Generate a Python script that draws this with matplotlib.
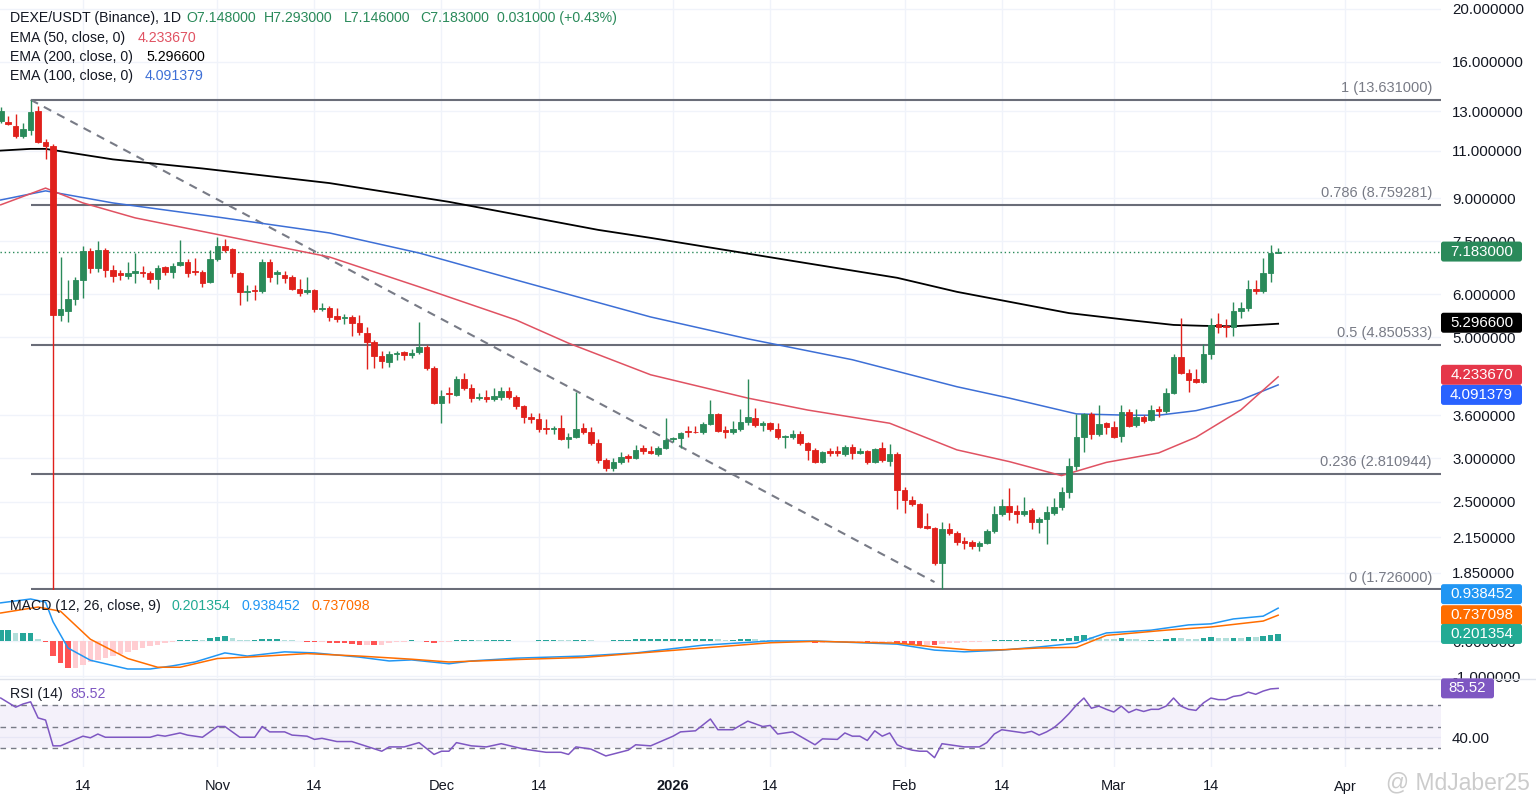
import numpy as np
import pandas as pd
import matplotlib
matplotlib.use("Agg")
import matplotlib.pyplot as plt
import matplotlib.dates as mdates
import matplotlib.ticker as mticker
from matplotlib.patches import FancyBboxPatch
from matplotlib.lines import Line2D
from matplotlib.transforms import IdentityTransform

plt.rcParams['font.family'] = ['Liberation Sans', 'DejaVu Sans']

# ---- data, day offsets are relative to 2025-10-10 ----
crash = pd.Timestamp("2025-10-10")
first_offset = -7

opens = [12.45, 12.42, 12.2, 11.68, 12.0, 13.0, 11.4, 11.22, 5.5, 5.6,
         5.87, 6.37, 7.21, 6.69, 7.23, 6.65, 6.55, 6.48, 6.57, 6.6,
         6.55, 6.4, 6.72, 6.58, 6.78, 6.88, 6.62, 6.6, 6.31, 6.97,
         7.36, 7.25, 6.57, 6.05, 6.1, 6.08, 6.88, 6.54, 6.5, 6.45,
         6.14, 6.06, 6.1, 5.64, 5.66, 5.47, 5.42, 5.45, 5.32, 5.1,
         4.9, 4.63, 4.51, 4.67, 4.7, 4.64, 4.7, 4.8, 4.4, 3.79,
         3.95, 3.92, 4.2, 4.03, 3.87, 3.89, 3.85, 3.89, 3.98, 3.89,
         3.74, 3.57, 3.55, 3.41, 3.39, 3.41, 3.26, 3.29, 3.41, 3.36,
         3.2, 2.98, 2.88, 2.95, 3.03, 3.01, 3.13, 3.09, 3.06, 3.14,
         3.25, 3.27, 3.37, 3.36, 3.36, 3.47, 3.62, 3.38, 3.35, 3.39,
         3.5, 3.56, 3.46, 3.48, 3.39, 3.28, 3.28, 3.32, 3.2, 3.11,
         2.96, 3.09, 3.09, 3.05, 3.15, 3.07, 3.09, 2.96, 3.13, 2.97,
         3.06, 2.63, 2.52, 2.47, 2.26, 2.24, 1.93, 2.23, 2.19, 2.12,
         2.11, 2.07, 2.1, 2.21, 2.37, 2.45, 2.4, 2.37, 2.41, 2.29,
         2.32, 2.38, 2.44, 2.6, 2.9, 3.28, 3.62, 3.32, 3.48, 3.43,
         3.3, 3.65, 3.45, 3.58, 3.53, 3.69, 3.67, 3.96, 4.6, 4.3,
         4.19, 4.15, 4.66, 5.29, 5.24, 5.23, 5.6, 5.66, 6.14, 6.07,
         6.56, 7.148]
highs = [13.2, 12.75, 12.85, 12.37, 13.631, 13.25, 11.55, 11.3, 7.02, 6.37,
         6.46, 7.34, 7.28, 7.5, 7.3, 6.79, 6.65, 6.88, 7.15, 6.76,
         6.62, 6.8, 6.77, 6.84, 7.54, 6.95, 7.0, 6.65, 7.23, 7.64,
         7.58, 7.3, 6.6, 6.25, 6.24, 6.97, 6.97, 6.65, 6.62, 6.5,
         6.41, 6.46, 6.14, 5.78, 5.7, 5.65, 5.52, 5.5, 5.5, 5.23,
         4.95, 4.72, 4.72, 4.72, 4.73, 4.77, 5.33, 4.84, 4.43, 4.0,
         4.05, 4.24, 4.31, 4.1, 3.95, 4.01, 4.03, 4.06, 4.06, 3.92,
         3.76, 3.64, 3.64, 3.54, 3.44, 3.6, 3.34, 3.97, 3.48, 3.42,
         3.25, 3.0, 3.0, 3.08, 3.06, 3.17, 3.17, 3.16, 3.16, 3.56,
         3.29, 3.36, 3.44, 3.44, 3.5, 3.84, 3.64, 3.44, 3.51, 3.69,
         4.2, 3.71, 3.52, 3.5, 3.49, 3.31, 3.38, 3.37, 3.22, 3.13,
         3.1, 3.13, 3.16, 3.18, 3.19, 3.13, 3.11, 3.14, 3.21, 3.19,
         3.08, 2.66, 2.56, 2.49, 2.38, 2.25, 2.29, 2.28, 2.21, 2.15,
         2.13, 2.12, 2.23, 2.45, 2.53, 2.65, 2.46, 2.55, 2.43, 2.34,
         2.45, 2.54, 2.66, 3.0, 3.62, 3.64, 3.65, 3.76, 3.5, 3.52,
         3.76, 3.69, 3.69, 3.6, 3.76, 3.75, 4.03, 4.66, 5.43, 4.38,
         4.37, 4.87, 5.43, 5.55, 5.4, 5.8, 5.8, 6.37, 6.37, 7.0,
         7.4, 7.293]
lows = [12.35, 12.25, 11.6, 11.62, 11.75, 11.35, 10.6, 1.70, 5.36, 5.33,
        5.74, 5.9, 6.55, 6.6, 6.46, 6.33, 6.38, 6.41, 6.29, 6.46,
        6.3, 6.13, 6.5, 6.42, 6.75, 6.46, 6.5, 6.18, 6.28, 6.9,
        7.18, 6.46, 5.74, 5.83, 5.85, 6.03, 6.33, 6.27, 6.3, 6.1,
        5.96, 6.01, 5.57, 5.6, 5.36, 5.34, 5.3, 5.03, 5.05, 4.37,
        4.39, 4.39, 4.42, 4.55, 4.55, 4.58, 4.66, 4.36, 3.78, 3.48,
        3.79, 3.9, 4.0, 3.81, 3.84, 3.81, 3.83, 3.84, 3.86, 3.69,
        3.48, 3.48, 3.36, 3.32, 3.33, 3.24, 3.14, 3.27, 3.33, 3.18,
        2.94, 2.84, 2.84, 2.93, 2.96, 2.99, 3.06, 3.05, 3.03, 3.12,
        3.22, 3.14, 3.28, 3.34, 3.33, 3.45, 3.35, 3.27, 3.33, 3.37,
        3.45, 3.43, 3.37, 3.37, 3.26, 3.14, 3.26, 3.18, 2.98, 2.94,
        2.94, 3.03, 3.03, 3.03, 2.99, 3.05, 2.93, 2.94, 2.96, 2.9,
        2.42, 2.38, 2.45, 2.24, 2.23, 1.91, 1.726, 2.17, 2.08, 2.05,
        2.05, 2.03, 2.09, 2.19, 2.35, 2.31, 2.28, 2.35, 2.23, 2.19,
        2.09, 2.36, 2.41, 2.54, 2.86, 3.08, 3.25, 3.3, 3.33, 3.27,
        3.22, 3.42, 3.43, 3.49, 3.51, 3.58, 3.64, 3.93, 4.28, 3.97,
        4.12, 4.12, 4.57, 5.1, 5.0, 5.02, 5.43, 5.6, 6.0, 6.03,
        6.33, 7.146]
closes = [13.0, 12.32, 11.68, 12.03, 12.95, 11.4, 11.22, 5.5, 5.63, 5.87,
          6.37, 7.21, 6.69, 7.23, 6.65, 6.48, 6.51, 6.56, 6.61, 6.56,
          6.4, 6.7, 6.58, 6.76, 6.88, 6.56, 6.58, 6.3, 6.97, 7.36,
          7.24, 6.57, 6.06, 6.09, 6.07, 6.88, 6.46, 6.58, 6.42, 6.14,
          6.04, 6.1, 5.63, 5.67, 5.46, 5.4, 5.45, 5.32, 5.12, 4.9,
          4.63, 4.52, 4.67, 4.69, 4.65, 4.69, 4.8, 4.4, 3.79, 3.91,
          3.93, 4.2, 4.03, 3.87, 3.89, 3.85, 3.9, 3.98, 3.89, 3.74,
          3.57, 3.54, 3.39, 3.39, 3.41, 3.26, 3.29, 3.4, 3.36, 3.2,
          2.98, 2.88, 2.95, 3.02, 3.01, 3.11, 3.09, 3.07, 3.14, 3.24,
          3.27, 3.34, 3.35, 3.35, 3.47, 3.62, 3.37, 3.36, 3.39, 3.5,
          3.57, 3.45, 3.48, 3.39, 3.28, 3.3, 3.32, 3.2, 3.11, 2.96,
          3.08, 3.07, 3.07, 3.15, 3.07, 3.09, 2.96, 3.12, 2.98, 3.06,
          2.63, 2.52, 2.47, 2.25, 2.24, 1.93, 2.23, 2.19, 2.11, 2.1,
          2.07, 2.1, 2.21, 2.37, 2.45, 2.39, 2.37, 2.4, 2.29, 2.32,
          2.39, 2.44, 2.6, 2.91, 3.28, 3.62, 3.32, 3.47, 3.43, 3.29,
          3.65, 3.44, 3.58, 3.52, 3.68, 3.67, 3.96, 4.6, 4.3, 4.17,
          4.15, 4.66, 5.27, 5.22, 5.22, 5.6, 5.66, 6.13, 6.07, 6.56,
          7.148, 7.183]

macd_hist = [0.30, 0.30, 0.22, 0.22, 0.24, 0.07, -0.02, -0.42, -0.62, -0.76,
             -0.76, -0.68, -0.6, -0.54, -0.48, -0.42, -0.36, -0.3, -0.25, -0.2,
             -0.15, -0.1, -0.06, -0.02, 0.02, 0.03, 0.04, 0.03, 0.08, 0.12,
             0.13, 0.08, 0.04, 0.02, 0.02, 0.05, 0.05, 0.05, 0.03, 0.02,
             0.01, -0.02, -0.04, -0.04, -0.05, -0.06, -0.07, -0.09, -0.1, -0.1,
             -0.11, -0.1, -0.06, -0.04, -0.02, 0.02, 0.01, -0.03, -0.05, -0.04,
             -0.02, 0.02, 0.03, 0.03, 0.02, 0.02, 0.02, 0.03, 0.03, 0.01,
             0.01, 0.01, 0.02, 0.03, 0.04, 0.03, 0.02, 0.04, 0.04, 0.02,
             0.01, 0.01, 0.03, 0.04, 0.04, 0.05, 0.05, 0.05, 0.05, 0.06,
             0.06, 0.06, 0.06, 0.06, 0.06, 0.07, 0.05, 0.04, 0.04, 0.05,
             0.07, 0.05, 0.04, 0.03, 0.02, 0.01, 0.01, -0.02, -0.04, -0.06,
             -0.05, -0.04, -0.03, -0.02, -0.02, -0.02, -0.03, -0.02, -0.02, -0.02,
             -0.06, -0.08, -0.09, -0.1, -0.1, -0.11, -0.08, -0.06, -0.05, -0.04,
             -0.03, -0.02, -0.01, 0.02, 0.03, 0.03, 0.03, 0.03, 0.03, 0.03,
             0.04, 0.05, 0.06, 0.1, 0.14, 0.16, 0.12, 0.1, 0.07, 0.05,
             0.08, 0.06, 0.05, 0.04, 0.04, 0.03, 0.05, 0.09, 0.08, 0.06,
             0.05, 0.08, 0.12, 0.1, 0.08, 0.1, 0.09, 0.12, 0.11, 0.15,
             0.18, 0.201354]

ema50_pts = [(-7, 8.75), (-1, 9.39), (4, 8.82), (11, 8.28), (21, 7.77), (27, 7.48),
             (37, 7.02), (49, 6.19), (62, 5.38), (69, 4.88), (80, 4.27), (93, 3.87),
             (101, 3.68), (112, 3.48), (121, 3.11), (128, 2.96), (135, 2.79),
             (141, 2.95), (148, 3.07), (153, 3.28), (159, 3.68), (164, 4.23367)]
ema100_pts = [(-7, 8.93), (-1, 9.28), (8, 8.82), (22, 8.31), (37, 7.77), (49, 7.14),
              (62, 6.37), (80, 5.45), (93, 4.97), (107, 4.55), (121, 4.06), (128, 3.87),
              (137, 3.62), (144, 3.6), (148, 3.6), (153, 3.67), (159, 3.84), (164, 4.091379)]
ema200_pts = [(-7, 11.0), (-3, 11.08), (-1, 11.08), (8, 10.6), (20, 10.2), (37, 9.59),
              (53, 8.86), (73, 7.87), (80, 7.61), (100, 6.87), (113, 6.43), (121, 6.06),
              (136, 5.54), (144, 5.38), (150, 5.27), (154, 5.25), (158, 5.24), (164, 5.2966)]

macd_pts = [(-7, 1.09), (-3, 1.2), (-1, 1.11), (0, 0.55), (2, -0.2), (5, -0.55), (10, -0.8),
            (13, -0.8), (16, -0.71), (19, -0.6), (23, -0.34), (26, -0.43), (31, -0.31),
            (35, -0.34), (41, -0.46), (45, -0.57), (48, -0.54), (53, -0.65), (56, -0.57),
            (62, -0.49), (71, -0.43), (78, -0.34), (87, -0.12), (96, 0.0), (102, 0.0),
            (113, -0.09), (118, -0.26), (122, -0.31), (127, -0.26), (132, -0.17),
            (137, -0.06), (141, 0.23), (147, 0.31), (149, 0.37), (152, 0.46), (155, 0.49),
            (158, 0.63), (162, 0.71), (164, 0.938452)]
signal_pts = [(-7, 0.8), (-2, 0.97), (1, 0.85), (5, 0.05), (10, -0.5), (14, -0.75),
              (17, -0.75), (22, -0.5), (26, -0.46), (34, -0.36), (41, -0.43), (48, -0.52),
              (53, -0.6), (62, -0.53), (71, -0.47), (87, -0.2), (96, -0.05), (102, -0.01),
              (113, -0.06), (118, -0.17), (123, -0.26), (127, -0.25), (132, -0.2),
              (137, -0.18), (141, 0.16), (149, 0.31), (155, 0.4), (162, 0.57), (164, 0.737098)]

rsi_pts = [(-7, 76.5), (-5, 68), (-4, 71), (-3, 73), (-2, 58), (-1, 56), (0, 32), (1, 32),
           (4, 41), (5, 39.5), (6, 43), (7, 40), (13, 40), (14, 42), (15, 41), (17, 44),
           (18, 42), (20, 40), (22, 50), (23, 50), (25, 40), (27, 40), (28, 50), (29, 45),
           (31, 45), (32, 42), (34, 41), (35, 38), (36, 39), (38, 36), (40, 36), (44, 27),
           (45, 31), (47, 31), (49, 35), (51, 24), (52, 27), (53, 27), (54, 35), (56, 32),
           (58, 31), (60, 34), (63, 29), (66, 26), (68, 26), (69, 24), (70, 31), (72, 29),
           (74, 22.6), (77, 28), (78, 33), (80, 32), (83, 41), (84, 45), (86, 46), (88, 57),
           (89, 47), (91, 47), (93, 55), (95, 50), (96, 51), (97, 43), (99, 45), (100, 41),
           (102, 33), (103, 38.5), (105, 38), (106, 44), (107, 41), (108, 41), (109, 37),
           (110, 46), (111, 41), (112, 44), (113, 33), (114, 30), (115, 28), (116, 27),
           (117, 27), (118, 21), (119, 34), (121, 32), (122, 31), (124, 31), (125, 35),
           (126, 43), (127, 47), (129, 45), (130, 44), (131, 45.5), (132, 42), (133, 45),
           (134, 49), (135, 55), (136, 62), (137, 70), (138, 76.5), (139, 67), (140, 69),
           (141, 66), (142, 63.5), (143, 69), (144, 63), (145, 66), (146, 64), (147, 66),
           (148, 66), (149, 69), (150, 76.5), (151, 69), (152, 66), (153, 65), (154, 72),
           (155, 76.5), (156, 75), (157, 75), (158, 78), (159, 79), (160, 82), (161, 80),
           (162, 83), (163, 85), (164, 85.52)]

fib_levels = [13.631, 8.759281, 4.850533, 2.810944, 1.726]
fib_labels = ["1 (13.631000)", "0.786 (8.759281)", "0.5 (4.850533)",
              "0.236 (2.810944)", "0 (1.726000)"]
fib_start = -3
trend_pts = [(-3, 13.631), (118, 1.78)]

price_ticks = [20, 16, 13, 11, 9, 7.5, 6, 5, 3.6, 3, 2.5, 2.15, 1.85]
x_tick_dates = ["2025-10-14", "2025-11-01", "2025-11-14", "2025-12-01", "2025-12-14",
                "2026-01-01", "2026-01-14", "2026-02-01", "2026-02-14", "2026-03-01",
                "2026-03-14", "2026-04-01"]
x_tick_labels = ["14", "Nov", "14", "Dec", "14", "2026", "14", "Feb", "14", "Mar", "14", "Apr"]

last_close = 7.183
ema50_last, ema100_last, ema200_last = 4.233670, 4.091379, 5.296600
macd_last, signal_last, hist_last = 0.938452, 0.737098, 0.201354
rsi_last = 85.52

# ---- styling ----
GREEN = '#2a8a5a'
RED = '#e0201b'
TXT = '#131722'
GRAY = '#787b86'
GRID = '#f0f3fa'
C50, C100, C200 = '#e05262', '#3d6fd6', '#000000'
CMACD, CSIG, CHIST = '#2196f3', '#ff6d00', '#22ab94'
CRSI = '#7e57c2'

W, H = 1536, 799
fig = plt.figure(figsize=(W / 100, H / 100), dpi=100)
fig.patch.set_facecolor('white')


def rect(top, bottom):
    return [0, (H - bottom) / H, 1441 / W, (bottom - top) / H]


ax = fig.add_axes(rect(0, 590))
axm = fig.add_axes(rect(590, 678), sharex=ax)
axr = fig.add_axes(rect(680, 767), sharex=ax)


def day(k):
    return mdates.date2num(crash + pd.Timedelta(days=k))


def pts_xy(pts):
    ks, vs = zip(*pts)
    return [day(k) for k in ks], list(vs)


dates = pd.date_range(crash + pd.Timedelta(days=first_offset), periods=len(opens), freq="D")
xs = mdates.date2num(dates)
o, h, l, c = map(np.array, (opens, highs, lows, closes))
col = np.where(c >= o, GREEN, RED)

for a in (ax, axm, axr):
    for s in a.spines.values():
        s.set_visible(False)
    a.set_facecolor('white')
    a.grid(True, color=GRID, lw=1, zorder=0)
    a.set_axisbelow(True)

# ---- main price pane ----
ax.set_yscale('log')
ax.set_ylim(1.7215, 20.77)
ax.set_xlim(day(-7.1), day(185.8))

ax.hlines(fib_levels, day(fib_start), day(185.8), colors='#6a6d78', lw=1.5, zorder=1.5)
for lev, lab in zip(fib_levels, fib_labels):
    ax.annotate(lab, xy=(1, lev), xycoords=('axes fraction', 'data'), xytext=(-6.5, 3.5),
                textcoords='offset points', ha='right', va='bottom', color=GRAY, fontsize=10.5)

tx, tv = pts_xy(trend_pts)
ax.plot(tx, tv, color=GRAY, lw=1.5, dashes=(4, 3.2), zorder=2)
ax.axhline(last_close, color=GREEN, lw=1, ls=(0, (1, 2)), zorder=1.6)

for pts, cc, lw in ((ema200_pts, C200, 1.3), (ema100_pts, C100, 1.1), (ema50_pts, C50, 1.1)):
    ex, ev = pts_xy(pts)
    ax.plot(ex, ev, color=cc, lw=lw, zorder=2.5)

ax.vlines(xs, l, h, colors=col, lw=1.0, zorder=3)
ax.bar(xs, np.abs(c - o), bottom=np.minimum(o, c), width=0.74, color=col,
       edgecolor=col, linewidth=0.6, zorder=4)

ax.yaxis.tick_right()
ax.set_yticks(price_ticks)
ax.yaxis.set_minor_locator(mticker.NullLocator())
ax.yaxis.set_major_formatter(mticker.FuncFormatter(lambda v, p: f"{v:.6f}"))

# ---- MACD pane ----
hist = np.array(macd_hist)
prev = np.r_[hist[0], hist[:-1]]
hcol = np.where(hist >= 0, np.where(hist >= prev, '#26a69a', '#b2dfdb'),
                np.where(hist < prev, '#ff5252', '#ffcdd2'))
axm.bar(xs, hist, width=0.74, color=hcol, zorder=2)
mx, mv = pts_xy(macd_pts)
sx, sv = pts_xy(signal_pts)
axm.plot(mx, mv, color=CMACD, lw=1.1, zorder=3)
axm.plot(sx, sv, color=CSIG, lw=1.1, zorder=3)
axm.set_ylim(-1.057, 1.457)
axm.yaxis.tick_right()
axm.set_yticks([0, -1])
axm.yaxis.set_major_formatter(mticker.FuncFormatter(lambda v, p: f"{v:.6f}"))

# ---- RSI pane ----
axr.axhspan(30, 70, color=CRSI, alpha=0.08, lw=0, zorder=1)
for lev in (70, 50, 30):
    axr.axhline(lev, color=GRAY, lw=1, dashes=(4, 3.5), zorder=2)
rx, rv = pts_xy(rsi_pts)
axr.plot(rx, rv, color=CRSI, lw=1.1, zorder=3)
axr.set_ylim(12.3, 93.3)
axr.yaxis.tick_right()
axr.set_yticks([40])
axr.yaxis.set_major_formatter(mticker.FuncFormatter(lambda v, p: f"{v:.2f}"))

for a in (ax, axm, axr):
    a.tick_params(axis='y', length=0, pad=8, labelsize=10.8, labelcolor=TXT)
    a.tick_params(axis='x', length=0)

tick_x = [mdates.date2num(pd.Timestamp(d)) for d in x_tick_dates]
axr.set_xticks(tick_x)
axr.set_xticklabels(x_tick_labels)
axr.tick_params(axis='x', pad=9, labelsize=10.5, labelcolor=TXT)
for t in axr.get_xticklabels():
    if t.get_text() == "2026":
        t.set_fontweight('bold')
ax.tick_params(axis='x', labelbottom=False)
axm.tick_params(axis='x', labelbottom=False)

# ---- overlays in pixel coordinates ----
ident = IdentityTransform()


def ptext(x, y, s, color=TXT, size=10.2, **kw):
    fig.text(x, H - y, s, color=color, fontsize=size, va='center', ha='left',
             transform=ident, **kw)


def value_box(axis, value, text, color, shift=0, width=81):
    yp = axis.transData.transform((0, value))[1] - shift
    fig.add_artist(FancyBboxPatch((1441, yp - 10), width, 20,
                                  boxstyle='round,pad=0,rounding_size=2.5',
                                  transform=ident, fc=color, ec='none', zorder=5))
    fig.text(1441 + width / 2, yp, text, color='white', fontsize=10.8, ha='center',
             va='center', transform=ident, zorder=6)


value_box(ax, last_close, f"{last_close:.6f}", GREEN)
value_box(ax, ema200_last, f"{ema200_last:.6f}", '#000000', shift=-1)
value_box(ax, ema50_last, f"{ema50_last:.6f}", '#e5374a', shift=-2)
value_box(ax, ema100_last, f"{ema100_last:.6f}", '#2962ff', shift=10)
value_box(axm, macd_last, f"{macd_last:.6f}", CMACD, shift=-14)
value_box(axm, signal_last, f"{signal_last:.6f}", CSIG)
value_box(axm, hist_last, f"{hist_last:.6f}", CHIST)
value_box(axr, rsi_last, f"{rsi_last:.2f}", CRSI, width=53)

# legends
ptext(10, 18, "DEXE/USDT (Binance), 1D")
for xp, s in ((186, "O7.148000"), (264, "H7.293000"), (344, "L7.146000"),
              (420, "C7.183000"), (497, "0.031000 (+0.43%)")):
    ptext(xp, 18, s, color=GREEN)
ptext(10, 38, "EMA (50, close, 0)")
ptext(138, 38, f"{ema50_last:.6f}", color=C50)
ptext(10, 57, "EMA (200, close, 0)")
ptext(146, 57, f"{ema200_last:.6f}", color=C200)
ptext(10, 76, "EMA (100, close, 0)")
ptext(145, 76, f"{ema100_last:.6f}", color=C100)

ptext(10, 606, "MACD (12, 26, close, 9)")
ptext(172, 606, f"{hist_last:.6f}", color=CHIST)
ptext(241, 606, f"{macd_last:.6f}", color=CMACD)
ptext(312, 606, f"{signal_last:.6f}", color=CSIG)

ptext(10, 694, "RSI (14)")
ptext(70, 694, f"{rsi_last:.2f}", color=CRSI)

fig.add_artist(Line2D([0, W], [H - 679, H - 679], color='#e0e3eb', lw=1, transform=ident))

fig.text(1530, H - 783, "@ MdJaber25", color='#cccccc', fontsize=16.5, ha='right',
         va='center', transform=ident, zorder=7)

fig.savefig("out.png", dpi=100, facecolor='white')
